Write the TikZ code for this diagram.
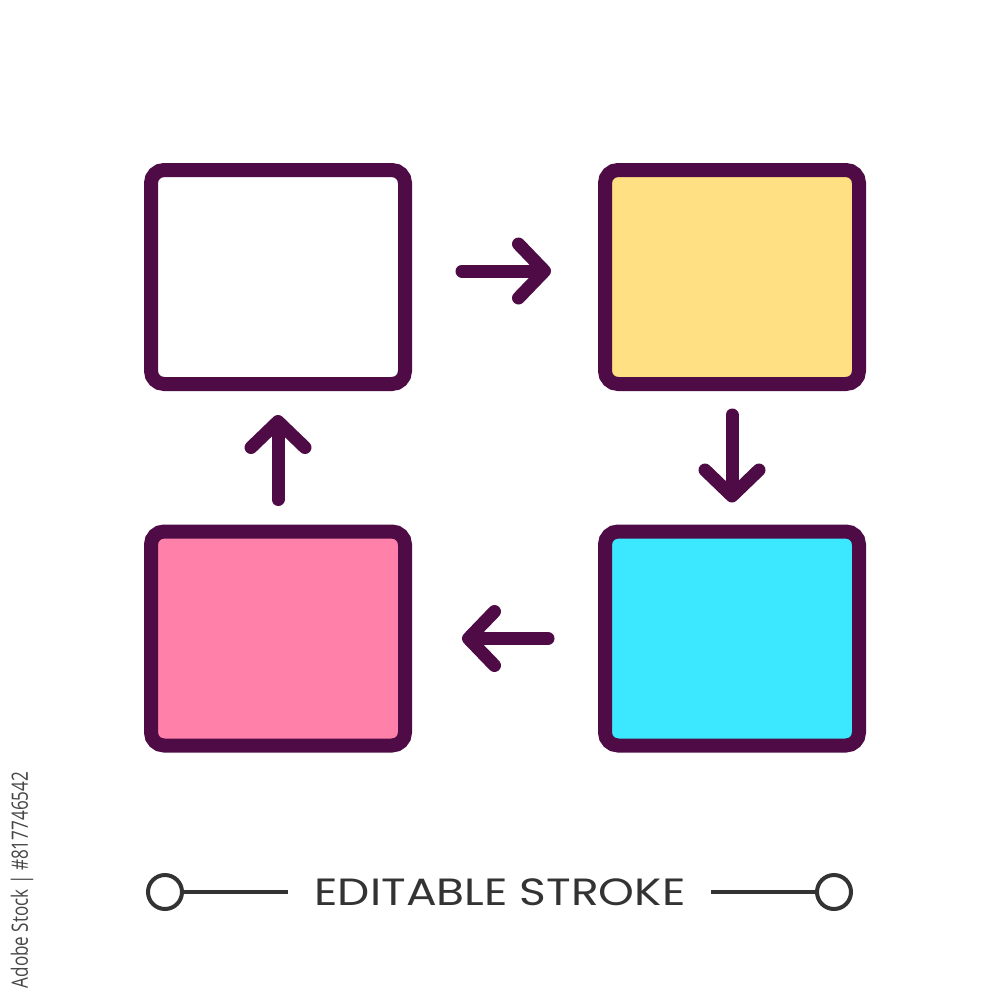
\documentclass[tikz,border=0pt]{standalone}
\usepackage{fontspec}
\usepackage{tikz}
\usetikzlibrary{calc,arrows.meta}
\newfontfamily\legendfont{Poppins}
\newfontfamily\idfont{Open Sans}

\definecolor{plum}{HTML}{4E0B45}
\definecolor{sand}{HTML}{FFE082}
\definecolor{aqua}{HTML}{3CE8FF}
\definecolor{rose}{HTML}{FF80A9}
\definecolor{ink}{HTML}{333333}

\tikzset{
    box/.style={draw=plum,line width=1.4mm,rounded corners=1.3mm,
        minimum width=25.4mm,minimum height=21.4mm,outer sep=0pt},
    flow/.style={draw=plum,line width=1.3mm,line cap=round,
        -{Straight Barb[length=2.6mm,width=5.4mm,round]}},
    ring/.style={circle,draw=ink,line width=0.4mm,minimum size=3.4mm,inner sep=0pt},
    legend/.style={draw=ink,line width=0.4mm}
}

\begin{document}
\begin{tikzpicture}[x=0.1mm,y=-0.1mm]
            \useasboundingbox[fill=white] (0,0) rectangle (1000,1000);
            % the four boxes
            \node[box,fill=white] (tl) at (278,277) {};
            \node[box,fill=sand] (tr) at (732,277) {};
            \node[box,fill=aqua] (br) at (732,638.5) {};
            \node[box,fill=rose] (bl) at (278,638.5) {};
            % the cycle
            \draw[flow] ($(tl.east)+(57,-6)$) -- ($(tr.west)+(-54,-6)$);
            \draw[flow] ($(tr.south)+(0,31)$) -- ($(br.north)+(0,-29)$);
            \draw[flow] ($(br.west)+(-57,0)$) -- ($(bl.east)+(57,0)$);
            \draw[flow] ($(bl.north)+(0,-32)$) -- ($(tl.south)+(0,31)$);
            % legend
            \node[ring] (lc) at (165,892) {};
            \node[ring] (rc) at (834,892) {};
            \node[text=ink,font=\legendfont\fontsize{10.8}{12}\selectfont,inner sep=0pt,xscale=1.2] (lbl) at (500,892) {EDITABLE STROKE};
            \coordinate (la) at (288,892);
            \coordinate (ra) at (711,892);
            \draw[legend] (lc) -- (la);
            \draw[legend] (ra) -- (rc);
            \node[text=ink!90,font=\idfont\fontsize{6.4}{8}\selectfont,inner sep=0pt,rotate=90,xscale=0.76] (id) at (22,880) {Adobe Stock | \#817746542};
\end{tikzpicture}
\end{document}
